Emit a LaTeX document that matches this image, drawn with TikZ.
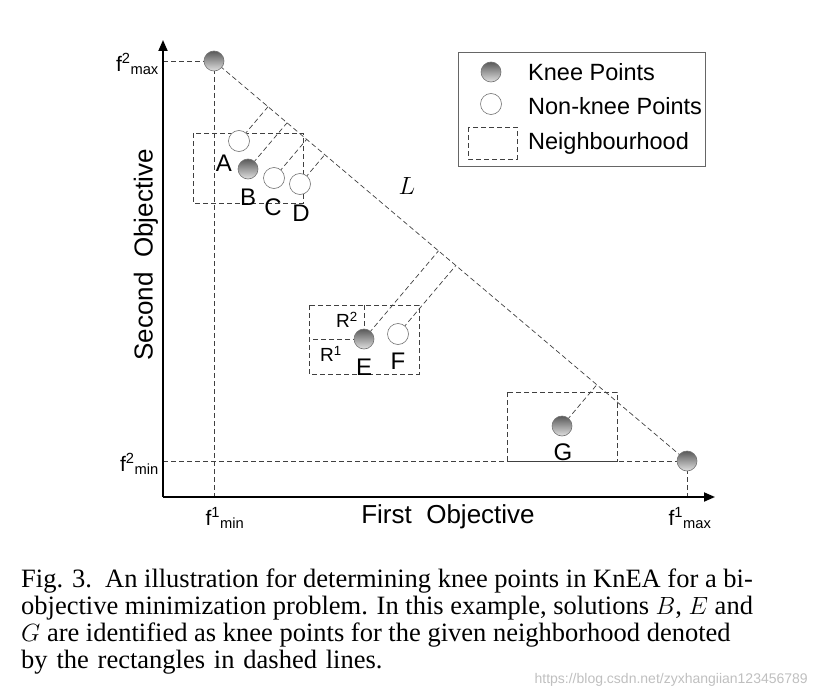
\documentclass[tikz,border=0pt]{standalone}
\usepackage{fontspec}
\setmainfont{Liberation Serif}
\newfontfamily\sansf{Liberation Sans}
\usetikzlibrary{calc,arrows.meta}
\begin{document}
\begin{tikzpicture}[x=1pt,y=-1pt,
  dsh/.style={dash pattern=on 5pt off 3pt, line width=0.7pt, black!75},
  knee/.style={circle, draw=black!55, line width=0.6pt, minimum size=20pt, inner sep=0pt, top color=black!65, bottom color=black!12},
  nonknee/.style={circle, draw=black!55, line width=0.6pt, minimum size=21pt, inner sep=0pt, fill=white},
  lab/.style={font=\sansf\fontsize{24}{24}\selectfont, inner sep=0pt},
  leg/.style={font=\sansf\fontsize{23.5}{23.5}\selectfont, inner sep=0pt},
  axl/.style={font=\sansf\fontsize{26}{26}\selectfont, inner sep=0pt},
  slab/.style={font=\sansf\fontsize{21}{21}\selectfont, inner sep=0pt},
  rlab/.style={font=\sansf\fontsize{19}{19}\selectfont, inner sep=0pt},
  captxt/.style={anchor=west, inner sep=0pt, text width=779pt, font=\fontsize{26.5}{26.5}\selectfont},
  ax/.style={line width=1.8pt, -{Triangle[length=11pt,width=9pt]}}]
\useasboundingbox (0,0) rectangle (816,698);
% coordinates
\coordinate (O) at (163,497);
\coordinate (Yt) at (163,40);
\coordinate (Xr) at (715,497);
\coordinate (T) at (214,61);
\coordinate (R) at (687,461);
\coordinate (pA) at (239,141);
\coordinate (pB) at (248,169);
\coordinate (pC) at (274,178);
\coordinate (pD) at (300,184);
\coordinate (pE) at (364,339);
\coordinate (pF) at (398,334);
\coordinate (pG) at (562,426);
% dashed guides
\draw[dsh] (163,61) -- (T);
\draw[dsh] (T) -- (214,497);
\draw[dsh] (163,461) -- (R);
\draw[dsh] (R) -- (687,497);
\draw[dsh] (T) -- (R);
% projections
\foreach \p in {pA,pB,pC,pD,pE,pF,pG}{
  \draw[dsh] (\p) -- ($(T)!(\p)!(R)$);
}
% neighbourhoods
\draw[dsh] (193,133) rectangle (303,203);
\draw[dsh] (309,305) rectangle (419,374);
\draw[dsh] (364,305) -- (pE) -- (309,339);
\draw[dsh] (507,392) rectangle (617,461);
% axes
\draw[ax] (O) -- (Yt);
\draw[ax] (O) -- (Xr);
% points
\node[knee] (nT) at (T) {};
\node[knee] (nR) at (R) {};
\node[nonknee] (nA) at (pA) {};
\node[knee] (nB) at (pB) {};
\node[nonknee] (nC) at (pC) {};
\node[nonknee] (nD) at (pD) {};
\node[knee] (nE) at (pE) {};
\node[nonknee] (nF) at (pF) {};
\node[knee] (nG) at (pG) {};
% labels
\node[lab] (lA) at (224,163) {A};
\node[lab] (lB) at (248,197) {B};
\node[lab] (lC) at (273,207) {C};
\node[lab] (lD) at (301,213) {D};
\node[lab] (lE) at (364,367) {E};
\node[lab] (lF) at (398,361) {F};
\node[lab] (lG) at (563,452) {G};
\node[rlab] (lR2) at (347,320) {R\textsuperscript{2}};
\node[rlab] (lR1) at (331,354) {R\textsuperscript{1}};
\node[font=\fontsize{34}{34}\selectfont, inner sep=0pt] (lL) at (407,186) {$L$};
\node[slab, anchor=east] (f2max) at (159,64) {f\textsuperscript{2}\textsubscript{max}};
\node[slab, anchor=east] (f2min) at (159,464) {f\textsuperscript{2}\textsubscript{min}};
\node[slab] (f1min) at (225,518) {f\textsuperscript{1}\textsubscript{min}};
\node[slab] (f1max) at (690,518) {f\textsuperscript{1}\textsubscript{max}};
\node[axl] (xl) at (448,517) {First\ \ Objective};
\node[axl, rotate=90] (yl) at (146,255) {Second\ \ Objective};
% legend
\draw[line width=0.6pt, black!60] (458,52) rectangle (705,166);
\node[knee] (lk) at (491,72) {};
\node[nonknee] (lnk) at (491,104) {};
\draw[dsh] (468,127) rectangle (517,159);
\node[leg, anchor=west] (t1) at (528,72) {Knee Points};
\node[leg, anchor=west] (t2) at (528,106) {Non-knee Points};
\node[leg, anchor=west] (t3) at (528,143) {Neighbourhood};
% caption
\node[captxt, align=justify] (c1) at (21,581) {\parfillskip=0pt Fig. 3.\ \ An illustration for determining knee points in KnEA for a bi-};
\node[captxt, align=justify] (c2) at (21,608) {\parfillskip=0pt objective minimization problem. In this example, solutions $B$, $E$ and};
\node[captxt, align=justify] (c3) at (21,635) {\parfillskip=0pt $G$ are identified as knee points for the given neighborhood denoted};
\node[captxt, align=left] (c4) at (21,662) {by the rectangles in dashed lines.};
\node[anchor=east, inner sep=0pt, text=black!25, font=\sansf\fontsize{14}{14}\selectfont] (wm) at (808,680) {https://blog.csdn.net/zyxhangiian123456789};
\end{tikzpicture}
\end{document}
